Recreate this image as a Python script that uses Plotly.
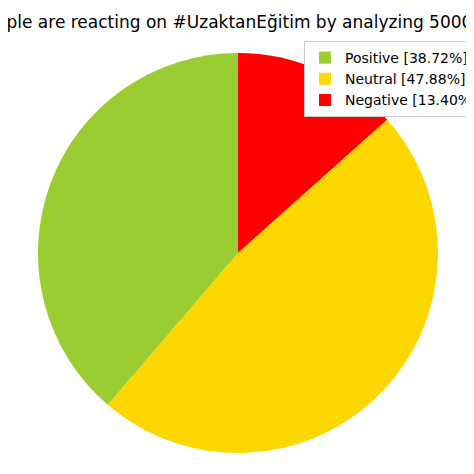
import plotly.graph_objects as go

# sentiment split of the tweets
sentiments = ["Positive", "Neutral", "Negative"]
percentages = [38.72, 47.88, 13.40]
colors = ["#9ACD32", "#FFD700", "#FF0000"]

labels = [f"{s} [{p:.2f}%]" for s, p in zip(sentiments, percentages)]

# slices run clockwise from 12 o'clock in reverse order (Negative first),
# the legend is reversed back to Positive / Neutral / Negative
fig = go.Figure(go.Pie(
    labels=labels[::-1],
    values=percentages[::-1],
    marker=dict(colors=colors[::-1], line=dict(width=0)),
    sort=False,
    direction="clockwise",
    rotation=0,
    textinfo="none",
    hoverinfo="label",
))

# page body has an 8px margin, so the figure is 466 wide/high
fig.update_layout(
    width=466,
    height=466,
    paper_bgcolor="white",
    font=dict(family="DejaVu Sans", color="black"),
    title=dict(
        text="How people are reacting on #UzaktanEğitim by analyzing 5000 Tweets",
        x=0.485, xref="container", xanchor="center",
        y=0.970, yref="container", yanchor="middle",
        font=dict(size=17, family="DejaVu Sans"),
    ),
    margin=dict(l=30, r=36, t=45, b=21, autoexpand=False),
    legend=dict(
        x=0.665, y=1.03, xanchor="left", yanchor="top",
        traceorder="reversed",
        bgcolor="white", bordercolor="#cccccc", borderwidth=1,
        font=dict(size=14, family="DejaVu Sans"),
        tracegroupgap=0,
    ),
)

fig.write_html("out.html")
